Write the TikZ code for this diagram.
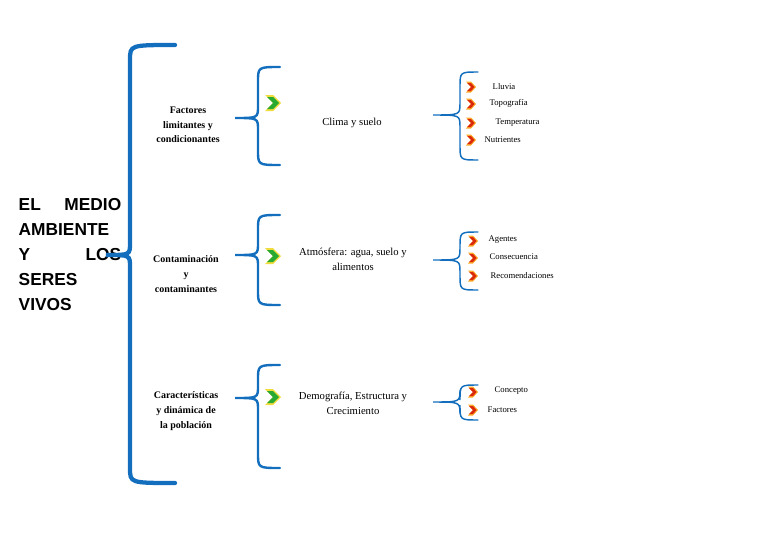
\documentclass[tikz,border=0pt]{standalone}
\usepackage{fontspec}
\setmainfont{Liberation Serif}
\newfontfamily\titlefont{Liberation Sans}
\definecolor{bblue}{RGB}{20,110,190}
\definecolor{cgreen}{RGB}{40,170,50}
\definecolor{cyell}{RGB}{240,220,60}
\definecolor{cred}{RGB}{220,40,10}
\definecolor{corange}{RGB}{250,170,40}
\newcommand{\mybrace}[6]{% ends x, bar x, tip x, ytop, ymid, ybot
  \draw[brc] (#1,#4) .. controls (#2,#4) and (#2,#4) .. (#2,#4+15)
    -- (#2,#5-12) .. controls (#2,#5) and (#2,#5) .. (#3,#5)
    .. controls (#2,#5) and (#2,#5) .. (#2,#5+12)
    -- (#2,#6-15) .. controls (#2,#6) and (#2,#6) .. (#1,#6);}
\newcommand{\gchev}[2]{\fill[cyell] (#1-7,#2-8) -- (#1+1,#2-8) -- (#1+9,#2) -- (#1+1,#2+8) -- (#1-7,#2+8) -- (#1+1,#2) -- cycle;
  \fill[cgreen] (#1-5,#2-6) -- (#1+1,#2-6) -- (#1+7,#2) -- (#1+1,#2+6) -- (#1-5,#2+6) -- (#1+1,#2) -- cycle;}
\newcommand{\rchev}[2]{\fill[corange] (#1-4,#2-5.5) -- (#1+1,#2-5.5) -- (#1+6,#2) -- (#1+1,#2+5.5) -- (#1-4,#2+5.5) -- (#1+1,#2) -- cycle;
  \fill[cred] (#1-3,#2-4) -- (#1+1,#2-4) -- (#1+4.5,#2) -- (#1+1,#2+4) -- (#1-3,#2+4) -- (#1+1,#2) -- cycle;}
\begin{document}
\begin{tikzpicture}[x=0.75pt,y=-0.75pt,
  brc/.style={bblue,line cap=round},
  ttl/.style={font=\titlefont\bfseries\fontsize{13}{15}\selectfont},
  cat/.style={font=\bfseries\fontsize{7.5}{11}\selectfont,align=center},
  mid/.style={font=\fontsize{8}{11}\selectfont,align=center},
  sm/.style={font=\fontsize{6.5}{8}\selectfont,anchor=west}]
\useasboundingbox (0,0) rectangle (768,543);
% title
\node[ttl,anchor=west] (t1a) at (14,205) {EL};
\node[ttl,anchor=east] (t1b) at (126,205) {MEDIO};
\node[ttl,anchor=west] (t2) at (14,230) {AMBIENTE};
\node[ttl,anchor=west] (t3a) at (14,255) {Y};
\node[ttl,anchor=east] (t3b) at (126,255) {LOS};
\node[ttl,anchor=west] (t4) at (14,280) {SERES};
\node[ttl,anchor=west] (t5) at (14,305) {VIVOS};
% braces
\begin{scope}[line width=3.2pt]\mybrace{175}{130}{106}{45}{255}{483}\end{scope}
\begin{scope}[line width=1.8pt]
\mybrace{280}{258}{235}{67}{118}{165}
\mybrace{280}{258}{235}{215}{255}{305}
\mybrace{280}{258}{235}{365}{398}{468}
\end{scope}
\begin{scope}[line width=1.1pt]
\mybrace{478}{460}{433}{72}{115}{160}
\mybrace{478}{460}{433}{232}{260}{290}
\mybrace{478}{460}{433}{385}{402}{420}
\end{scope}
% categories
\node[cat] (c1) at (188,125) {Factores\\limitantes y\\condicionantes};
\node[cat] (c2) at (186,274) {Contaminación\\y\\contaminantes};
\node[cat] (c3) at (186,411) {Características\\y dinámica de\\la población};
% middle
\node[mid] (m1) at (352,123) {Clima y suelo};
\node[mid] (m2) at (353,259) {Atmósfera: agua, suelo y\\alimentos};
\node[mid] (m3) at (353,403) {Demografía, Estructura y\\Crecimiento};
% chevrons
\gchev{272}{103}\gchev{272}{256}\gchev{272}{397}
\rchev{470}{87}\rchev{470}{104}\rchev{470}{123}\rchev{470}{140}
\rchev{472}{241}\rchev{472}{258}\rchev{472}{276}
\rchev{472}{392}\rchev{472}{410}
\node[sm] (l1) at (488,87) {Lluvia};
\node[sm] (l2) at (485,103) {Topografía};
\node[sm] (l3) at (491,123) {Temperatura};
\node[sm] (l4) at (480,140) {Nutrientes};
\node[sm] (l5) at (484,240) {Agentes};
\node[sm] (l6) at (485,257) {Consecuencia};
\node[sm] (l7) at (486,276) {Recomendaciones};
\node[sm] (l8) at (490,391) {Concepto};
\node[sm] (l9) at (483,410) {Factores};
\end{tikzpicture}
\end{document}
